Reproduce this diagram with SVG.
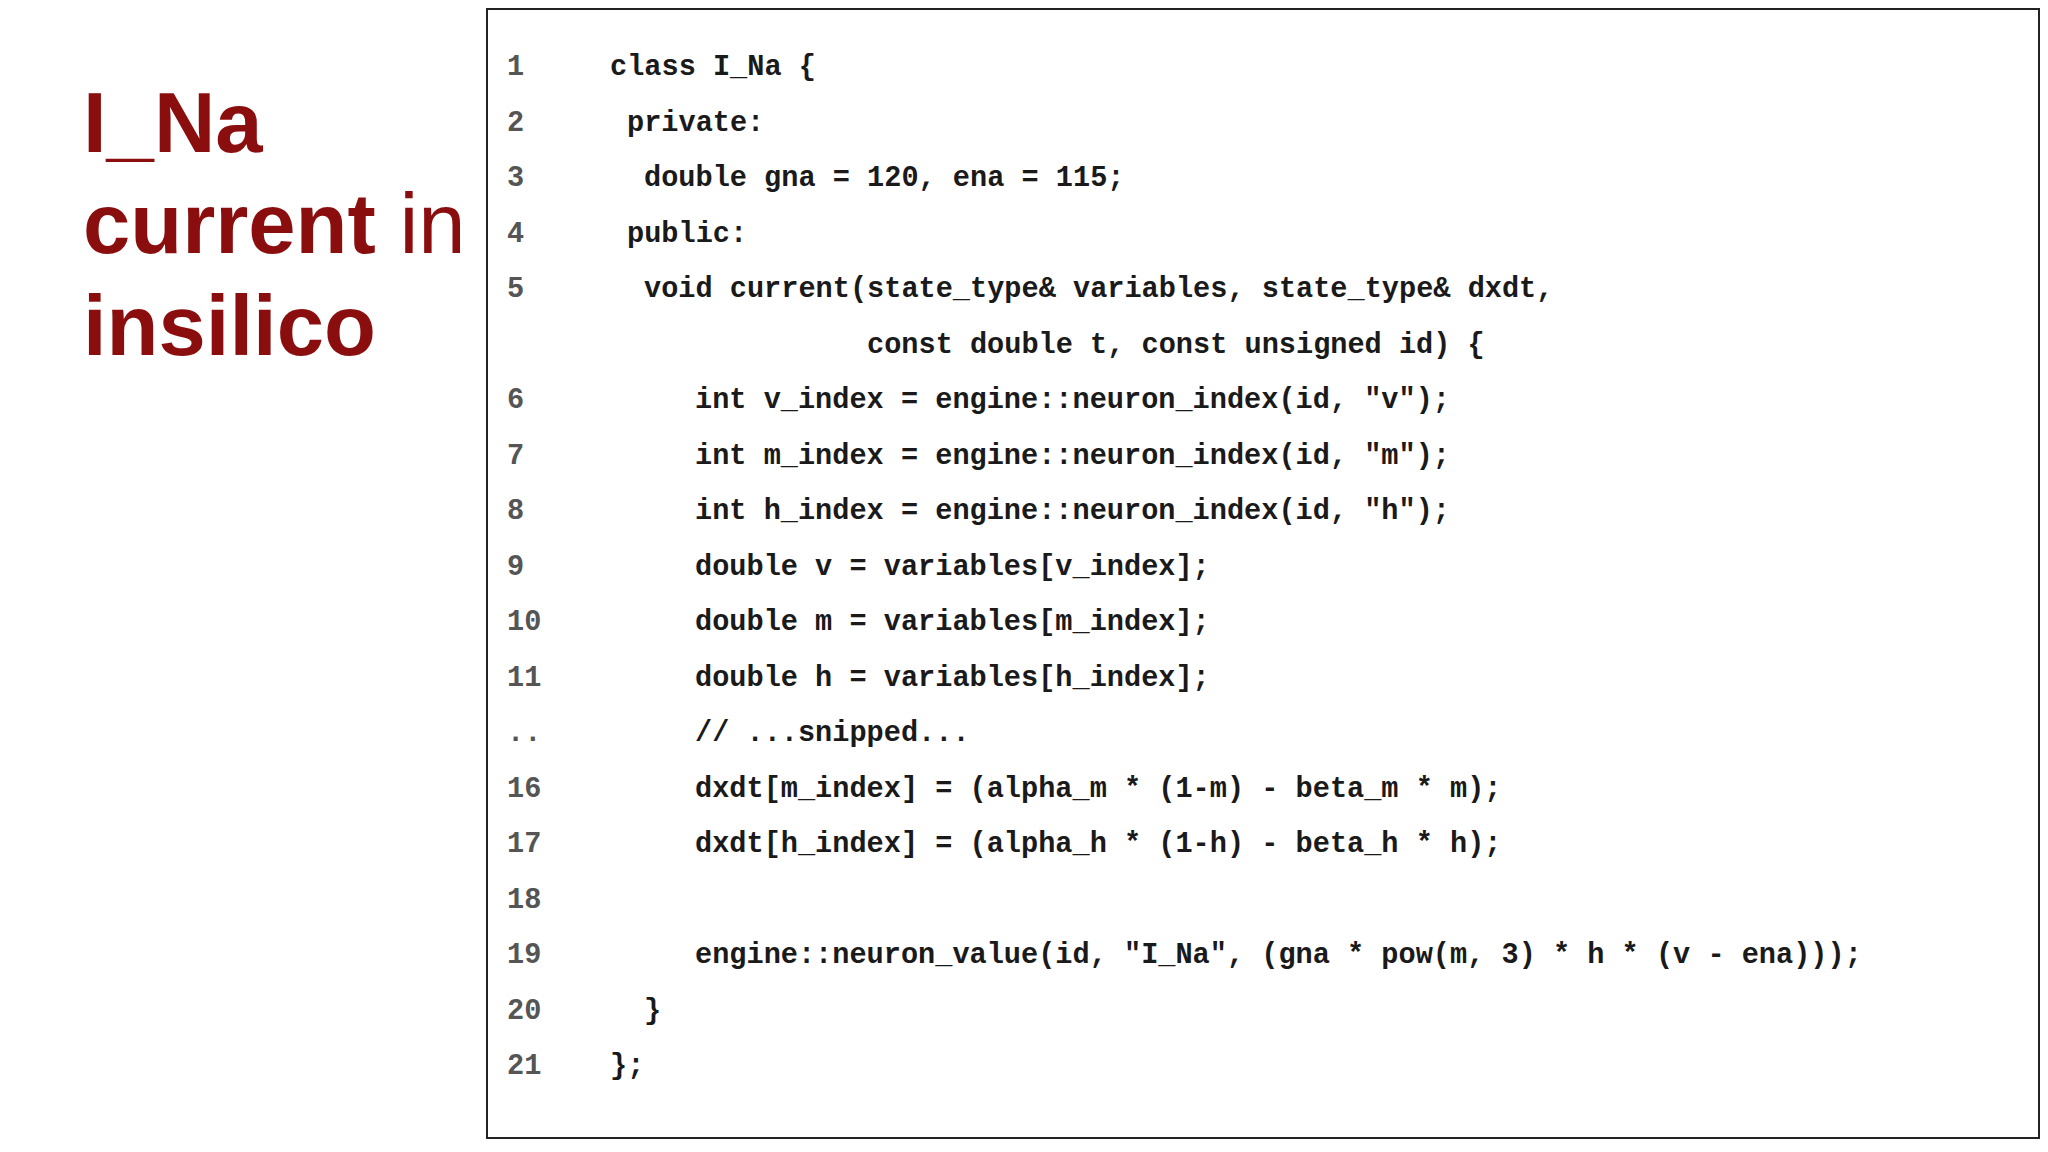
<svg xmlns="http://www.w3.org/2000/svg" width="2048" height="1152" viewBox="0 0 2048 1152">
<style>
.t{font-family:"Liberation Sans",Arial,sans-serif;font-weight:bold;font-size:85px;fill:#8b0e0e}
.n{font-family:"Liberation Mono","DejaVu Sans Mono",monospace;font-size:28.6px;fill:#555;font-weight:bold}
.c{font-family:"Liberation Mono","DejaVu Sans Mono",monospace;font-size:28.6px;fill:#1a1a1a;font-weight:bold;white-space:pre}
</style>
<rect width="2048" height="1152" fill="#fff"/>
<g id="title">
<text class="t" x="83" y="152">I_Na</text>
<text class="t" x="83" y="253">current <tspan font-weight="normal">in</tspan></text>
<text class="t" x="83" y="355">insilico</text>
</g>
<g id="code">
<rect x="487" y="9" width="1552" height="1129" fill="#fff" stroke="#222" stroke-width="2"/>
<g class="n">
<text x="507" y="75">1</text><text x="507" y="130.5">2</text><text x="507" y="186">3</text><text x="507" y="241.5">4</text><text x="507" y="297">5</text>
<text x="507" y="408">6</text><text x="507" y="463.5">7</text><text x="507" y="519">8</text><text x="507" y="574.5">9</text><text x="507" y="630">10</text><text x="507" y="685.5">11</text><text x="507" y="741">..</text><text x="507" y="796.5">16</text><text x="507" y="852">17</text><text x="507" y="907.5">18</text><text x="507" y="963">19</text><text x="507" y="1018.5">20</text><text x="507" y="1074">21</text>
</g>
<g class="c">
<text x="610" y="75">class I_Na {</text>
<text x="627" y="130.5">private:</text>
<text x="644" y="186">double gna = 120, ena = 115;</text>
<text x="627" y="241.5">public:</text>
<text x="644" y="297">void current(state_type&amp; variables, state_type&amp; dxdt,</text>
<text x="867" y="352.5">const double t, const unsigned id) {</text>
<text x="695" y="408">int v_index = engine::neuron_index(id, "v");</text>
<text x="695" y="463.5">int m_index = engine::neuron_index(id, "m");</text>
<text x="695" y="519">int h_index = engine::neuron_index(id, "h");</text>
<text x="695" y="574.5">double v = variables[v_index];</text>
<text x="695" y="630">double m = variables[m_index];</text>
<text x="695" y="685.5">double h = variables[h_index];</text>
<text x="695" y="741">// ...snipped...</text>
<text x="695" y="796.5">dxdt[m_index] = (alpha_m * (1-m) - beta_m * m);</text>
<text x="695" y="852">dxdt[h_index] = (alpha_h * (1-h) - beta_h * h);</text>
<text x="695" y="963">engine::neuron_value(id, "I_Na", (gna * pow(m, 3) * h * (v - ena)));</text>
<text x="644" y="1018.5">}</text>
<text x="610" y="1074">};</text>
</g>
</g>
</svg>
